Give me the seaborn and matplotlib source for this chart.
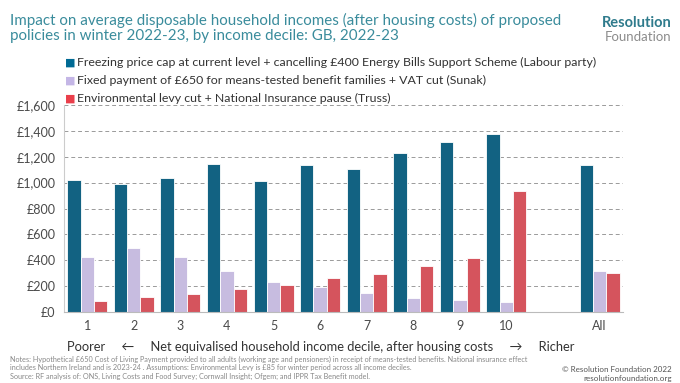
import pandas as pd
import matplotlib
matplotlib.use("Agg")
import matplotlib.pyplot as plt
import seaborn as sns

# values (£ per year)
deciles = ["1", "2", "3", "4", "5", "6", "7", "8", "9", "10", "All"]
labour = [1022, 990, 1035, 1143, 1012, 1135, 1105, 1228, 1313, 1374, 1133]
sunak = [423, 498, 427, 321, 234, 196, 149, 106, 90, 77, 321]
truss = [88, 118, 142, 177, 208, 262, 293, 354, 419, 932, 300]

series = [
    "Freezing price cap at current level + cancelling £400 Energy Bills Support Scheme (Labour party)",
    "Fixed payment of £650 for means-tested benefit families + VAT cut (Sunak)",
    "Environmental levy cut + National Insurance pause (Truss)",
]
colours = ["#006a94", "#c4b6e6", "#ea3f4b"]

df = pd.DataFrame({
    "decile": deciles * 3,
    "policy": [series[0]] * 11 + [series[1]] * 11 + [series[2]] * 11,
    "value": labour + sunak + truss,
})

# blank slot between decile 10 and All
order = deciles[:10] + [" "] + ["All"]

sns.set_style("white")
plt.rcParams["font.family"] = ["Lato", "DejaVu Sans"]

fig = plt.figure(figsize=(6.8, 3.83), dpi=100)
ax = fig.add_axes([0.094, 0.185, 0.822, 0.541])

sns.barplot(data=df, x="decile", y="value", hue="policy", order=order,
            hue_order=series, palette=colours, width=0.86,
            edgecolor="white", linewidth=0.6, ax=ax, legend=False)

ax.set_ylim(0, 1600)
ax.set_yticks(range(0, 1601, 200))
ax.set_yticklabels([f"£{v:,}" for v in range(0, 1601, 200)])
ax.yaxis.grid(True, linestyle=(0, (4, 3)), color="#9a9a9a", linewidth=0.7)
ax.set_axisbelow(True)
ax.set_xlabel("")
ax.set_ylabel("")
ax.tick_params(axis="both", length=0, labelsize=9, colors="#4a4a4a", pad=6)
ax.set_xticks(range(len(order)))
ax.set_xticklabels(order)
for s in ["top", "right"]:
    ax.spines[s].set_visible(False)
ax.spines["left"].set_color("#cccccc")
ax.spines["bottom"].set_color("#bbbbbb")

# title and branding
fig.text(0.015, 0.965, "Impact on average disposable household incomes (after housing costs) of proposed\n"
         "policies in winter 2022-23, by income decile: GB, 2022-23",
         ha="left", va="top", fontsize=10.9, color="#3a8c9c", linespacing=1.05)
fig.text(0.988, 0.958, "Resolution", ha="right", va="top", fontsize=10.5,
         fontweight="bold", color="#2f7b8c")
fig.text(0.988, 0.918, "Foundation", ha="right", va="top", fontsize=9.5, color="#8c8c8c")

# legend built by hand as coloured squares
for i, (lab, col) in enumerate(zip(series, colours)):
    y = 0.838 - i * 0.047
    fig.text(0.095, y, "■", ha="left", va="center", fontsize=8, color=col)
    fig.text(0.113, y, lab, ha="left", va="center", fontsize=8.9, color="#333333")

fig.text(0.472, 0.095, "Poorer     ←     Net equivalised household income decile, after housing costs     →     Richer",
         ha="center", va="center", fontsize=9.3, color="#333333")

notes = ("Notes: Hypothetical £650 Cost of Living Payment provided to all adults (working age and pensioners) in receipt of means-tested benefits. National insurance effect\n"
         "includes Northern Ireland and is 2023-24 . Assumptions: Environmental Levy is £85 for winter period across all income deciles.\n"
         "Source: RF analysis of: ONS, Living Costs and Food Survey; Cornwall Insight; Ofgem; and IPPR Tax Benefit model.")
fig.text(0.015, 0.072, notes, ha="left", va="top", fontsize=5.2, color="#888888", linespacing=1.25)
fig.text(0.988, 0.045, "© Resolution Foundation 2022\nresolutionfoundation.org", ha="right", va="top",
         fontsize=5.8, color="#555555", linespacing=1.3)

fig.savefig("out.png", dpi=100)
